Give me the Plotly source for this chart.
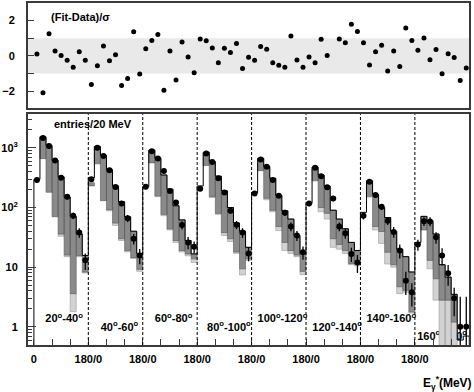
import plotly.graph_objects as go

# ---------------- data ----------------
bin_width = 20          # MeV
bins_per_seg = 9
seg_span = 180          # MeV per angular bin
n_seg = 8

seg_labels = ["20<sup>o</sup>-40<sup>o</sup>", "40<sup>o</sup>-60<sup>o</sup>",
              "60<sup>o</sup>-80<sup>o</sup>", "80<sup>o</sup>-100<sup>o</sup>",
              "100<sup>o</sup>-120<sup>o</sup>", "120<sup>o</sup>-140<sup>o</sup>",
              "140<sup>o</sup>-160<sup>o</sup>", "160<sup>o</sup>-180<sup>o</sup>"]
label_x = [100, 283, 462, 645, 822, 1003, 1182, 1350]
label_y = [1.33, 0.95, 1.33, 0.95, 1.33, 0.95, 1.33, 0.67]

x_tick_vals = [0, 180, 360, 540, 720, 900, 1080, 1260]
x_tick_text = ["0", "180/0", "180/0", "180/0", "180/0", "180/0", "180/0", "180/0"]
y_tick_vals = [1, 10, 100, 1000]
y_tick_text = ["1", "10", "10<sup>2</sup>", "10<sup>3</sup>"]

# total fit (outline)
total_fit = [297, 1530, 1100, 620, 326, 150, 71, 36, 15.7,
             316, 1050, 750, 430, 230, 125, 70, 40, 17,
             224, 915, 680, 351, 203, 107, 62, 28, 16.7,
             230, 840, 590, 335, 190, 100, 55, 40, 21.5,
             178, 670, 490, 309, 160, 88, 64, 34, 17,
             117, 475, 350, 228, 90, 64, 44, 26, 19,
             83, 280, 165, 100, 68, 40, 20, 15, 8.3,
             26, 71, 60, 36, 11, 6.8, 3.5, 0.6, 0.7]
# top of dark-grey component
dark_top = [297, 1530, 1100, 620, 326, 150, 71, 36, 15.7,
            261, 1050, 750, 430, 230, 125, 70, 40, 17,
            224, 915, 680, 351, 203, 107, 62, 28, 16.7,
            230, 840, 590, 335, 190, 100, 55, 40, 21.5,
            178, 670, 490, 309, 160, 88, 64, 34, 17,
            117, 475, 350, 228, 90, 64, 44, 26, 19,
            83, 280, 165, 100, 68, 40, 20, 15, 8.3,
            26, 71, 60, 36, 11, 6.8, 3.5, 0.6, 0.7]
# bottom of dark-grey = top of light-grey component
dark_bottom = [297, 660, 180, 70, 36, 16, 3.6, 15.7, 8.3,
               230, 540, 130, 92, 55, 30, 19, 14.5, 9.2,
               224, 560, 157, 77, 44, 28, 19, 16.7, 13.8,
               230, 505, 152, 80, 38, 30, 18, 9.4, 13.8,
               178, 415, 143, 90, 48, 26, 19, 16, 8.5,
               117, 280, 100, 80, 30, 24, 19, 11.5, 11.3,
               83, 151, 48, 39.6, 17.8, 11, 4.7, 4.1, 1.78,
               26, 42, 13, 6.4, 2.8, 2.8, 1.2, 0.6, 0.7]
# bottom of light-grey component
light_bottom = [297, 660, 180, 70, 33, 15, 1.8, 15, 8.0,
                230, 540, 130, 88, 50, 28, 18, 14, 8.5,
                224, 560, 152, 73, 42, 26, 18, 15.5, 12,
                230, 505, 148, 77, 34, 27, 17, 7.4, 13,
                178, 415, 135, 85, 41, 19, 17, 15, 7.5,
                117, 280, 85, 64, 21.5, 20, 17, 11, 10.5,
                83, 151, 42, 25, 11.3, 10, 3.6, 3.8, 1.7,
                26, 42, 9.4, 2.8, 0.3, 0.3, 0.3, 0.6, 0.7]

data_vals = [290, 1470, 1070, 617, 316, 151, 73, 38, 13,
             297, 1000, 728, 420, 221, 117, 66, 30, 15.7,
             224, 880, 665, 409, 190, 121, 51, 26, 22,
             207, 807, 578, 309, 178, 88, 51.5, 38, 17,
             171, 639, 482, 290, 158, 82, 48, 34, 17.8,
             117, 464, 335, 218, 141, 48, 37, 16.7, 12,
             73, 271, 162, 103, 60, 39, 19, 5.9, 3.8,
             23.9, 59, 58.5, 31.6, 15.7, 7.9, 3.0, 1.0, 1.0]
data_err = [20, 45, 38, 30, 20, 14, 9, 7, 4,
            20, 38, 32, 24, 17, 12, 9, 6, 4.5,
            18, 35, 30, 23, 15, 12, 8, 6, 5,
            16, 33, 28, 20, 15, 10, 8, 7, 4.5,
            15, 30, 26, 19, 14, 10, 8, 6.5, 4.5,
            12, 26, 22, 17, 14, 8, 7, 4.5, 4,
            10, 20, 15, 12, 9, 8, 5, 2.5, 1.6,
            5, 10, 10, 7, 5, 3, 1.5, 2.2, 2.2]

residuals = [0.11, -2.09, 1.26, 0.28, 0.02, -0.25, -0.64, 0.23, -0.25,
             -1.62, -0.56, 0.56, -0.28, 0.06, -1.68, -1.28, 1.37, -1.03,
             0.41, 0.88, 1.22, -1.95, 0.28, -1.37, 0.79, -0.06, -0.96,
             0.96, 0.86, 0.45, -0.38, 0.43, 0.19, 0.71, -0.71, -0.08,
             -0.25, 0.54, 0.38, -0.39, -0.53, -0.64, 1.13, -0.23, -0.64,
             -0.06, -0.38, 0.94, 0.02, None, 0.96, 0.75, 1.8, 1.39,
             0.75, -0.51, 0.24, 0.6, -0.85, 0.28, -0.6, 1.58, 0.88,
             0.32, 1.01, -0.21, 0.36, -1.01, 0.13, -0.09, -1.39, -0.68]

# ---------------- derived geometry ----------------
n_bins = len(total_fit)
left = [i * bin_width for i in range(n_bins)]
right = [l + bin_width for l in left]
centers = [l + bin_width / 2 for l in left]
x_max = n_seg * seg_span


def rects(lo, hi):
    xs, ys = [], []
    for x0, x1, b, t in zip(left, right, lo, hi):
        if t > b:
            xs += [x0, x0, x1, x1, x0, None]
            ys += [b, t, t, b, b, None]
    return xs, ys


DARK = "#8a8a8a"
LIGHT = "#d2d2d2"
AX = "#3a3a3a"
FONT = dict(family="Liberation Sans, Arial, sans-serif", size=11, color="black", weight="bold")

fig = go.Figure()

# residual panel
fig.add_trace(go.Scatter(x=centers, y=residuals, mode="markers",
                         marker=dict(color="black", size=5),
                         xaxis="x", yaxis="y", showlegend=False, hoverinfo="skip"))

# angular labels (drawn before fills so the histogram can cover them)
fig.add_trace(go.Scatter(x=label_x, y=label_y, mode="text", text=seg_labels,
                         textfont=FONT, xaxis="x2", yaxis="y2",
                         showlegend=False, hoverinfo="skip"))

lx, ly = rects(light_bottom, dark_bottom)
fig.add_trace(go.Scatter(x=lx, y=ly, mode="lines", fill="toself", fillcolor=LIGHT,
                         line=dict(color="#9a9a9a", width=0.6),
                         xaxis="x2", yaxis="y2", showlegend=False, hoverinfo="skip"))
dx, dy = rects(dark_bottom, dark_top)
fig.add_trace(go.Scatter(x=dx, y=dy, mode="lines", fill="toself", fillcolor=DARK,
                         line=dict(color="#5a5a5a", width=0.6),
                         xaxis="x2", yaxis="y2", showlegend=False, hoverinfo="skip"))

# total fit outline (step)
ox = [0] + left + [x_max, x_max]
oy = [1e-3] + total_fit + [total_fit[-1], 1e-3]
fig.add_trace(go.Scatter(x=ox, y=oy, mode="lines", line=dict(color="black", width=1, shape="hv"),
                         xaxis="x2", yaxis="y2", showlegend=False, hoverinfo="skip"))

# data points
fig.add_trace(go.Scatter(x=centers, y=data_vals, mode="markers",
                         marker=dict(color="black", size=6),
                         error_y=dict(type="data", array=data_err, color="black",
                                      thickness=1.3, width=0),
                         xaxis="x2", yaxis="y2", showlegend=False, hoverinfo="skip"))

# segment separators
for k in range(1, n_seg):
    fig.add_shape(type="line", xref="x2", yref="y2 domain",
                  x0=k * seg_span, x1=k * seg_span, y0=0, y1=1,
                  line=dict(color="black", width=1, dash="3px,2px"))

# +-1 sigma band
fig.add_shape(type="rect", xref="x domain", yref="y", x0=0, x1=1, y0=-1, y1=1,
              fillcolor="#e9e9e9", line=dict(width=0), layer="below")

xr = [-19.5, 1439]
fig.update_layout(
    width=474, height=392,
    margin=dict(l=24, r=5, t=1, b=47),
    paper_bgcolor="white", plot_bgcolor="white",
    font=FONT,
    xaxis=dict(domain=[0, 1], range=xr, anchor="y", showticklabels=False, ticks="",
               showline=True, mirror=True, linecolor=AX, linewidth=2,
               showgrid=False, zeroline=False),
    yaxis=dict(domain=[0.692, 1], range=[-2.97, 3.0], anchor="x",
               tickvals=[-2, 0, 2], ticks="inside", ticklen=6, tickcolor=AX,
               minor=dict(tickvals=[-1, 1], ticks="inside", ticklen=6, tickcolor=AX),
               ticklabelstandoff=9,
               showline=True, mirror=True, linecolor=AX, linewidth=2,
               showgrid=False, zeroline=False, tickfont=FONT),
    xaxis2=dict(domain=[0, 1], range=xr, anchor="y2",
                tickmode="array", tickvals=x_tick_vals, ticktext=x_tick_text,
                ticks="inside", ticklen=6, tickcolor=AX,
                minor=dict(tickmode="linear", tick0=0, dtick=60, ticks="inside",
                           ticklen=6, tickcolor=AX),
                showline=True, mirror=True, linecolor=AX, linewidth=2,
                showgrid=False, zeroline=False, tickfont=FONT, ticklabelstandoff=3),
    yaxis2=dict(domain=[0, 0.6753], type="log", range=[-0.305, 3.567], anchor="x2",
                tickmode="array", tickvals=y_tick_vals, ticktext=y_tick_text,
                ticks="inside", ticklen=8, tickcolor=AX,
                minor=dict(tickmode="array",
                           tickvals=[m * 10 ** e for e in range(-1, 4) for m in range(2, 10)],
                           ticks="inside", ticklen=4, tickcolor=AX),
                showline=True, mirror=True, linecolor=AX, linewidth=2,
                showgrid=False, zeroline=False, tickfont=FONT, ticklabelstandoff=6),
)

fig.add_annotation(text="180", xref="x2", yref="paper", x=x_max, y=-0.012,
                   xanchor="right", yanchor="top", showarrow=False, font=FONT)
fig.add_annotation(text="(Fit-Data)/σ", xref="x domain", yref="y domain", x=0.047, y=0.87,
                   xanchor="left", yanchor="middle", showarrow=False, font=FONT)
fig.add_annotation(text="entries/20 MeV", xref="x2 domain", yref="y2 domain", x=0.054, y=0.955,
                   xanchor="left", yanchor="middle", showarrow=False, font=FONT)
fig.add_annotation(text="E<sub>γ</sub><sup>*</sup>(MeV)", xref="paper", yref="paper",
                   x=1.011, y=-0.11, xanchor="right", yanchor="middle",
                   showarrow=False, font=dict(FONT, size=12))

fig.write_html("out.html", config={"displayModeBar": False},
               post_script="document.body.style.margin='0px';")
